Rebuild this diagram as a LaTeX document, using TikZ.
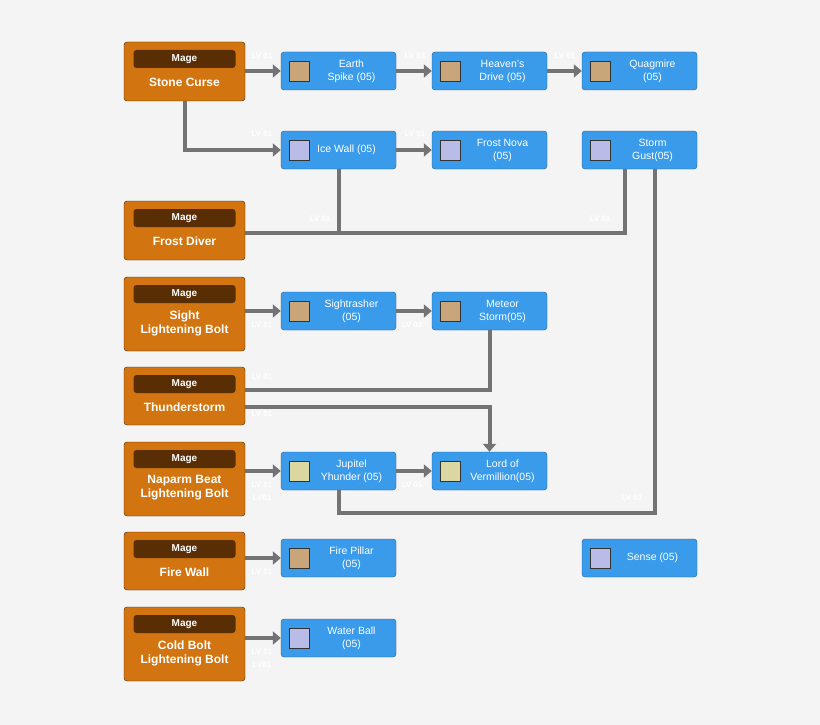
\documentclass[tikz,border=0pt]{standalone}
\usepackage{fontspec}
\setmainfont{Liberation Sans}
\usepackage{tikz}
\usetikzlibrary{arrows.meta}
\definecolor{bgpage}{HTML}{F4F4F4}
\definecolor{mageorange}{HTML}{D2740F}
\definecolor{magedark}{HTML}{5A2E05}
\definecolor{skillblue}{HTML}{3A9BEA}
\definecolor{scrolltan}{HTML}{C9A57A}
\definecolor{scrolllav}{HTML}{B8BCE6}
\definecolor{scrollpale}{HTML}{DCD7A0}
\tikzset{
  mage/.style={draw=magedark!70!black, fill=mageorange, rounded corners=3pt, minimum width=121pt, inner sep=0pt},
  magebar/.style={fill=magedark, rounded corners=3pt, minimum width=102pt, minimum height=18pt, inner sep=0pt,
    text=white, font=\bfseries\fontsize{10}{12}\selectfont},
  magename/.style={text=white, align=center, font=\bfseries\fontsize{12}{14}\selectfont},
  skill/.style={draw=skillblue!60!black, fill=skillblue, rounded corners=3pt, minimum width=115pt, minimum height=38pt, inner sep=0pt},
  skillname/.style={text=white, align=center, font=\fontsize{10.5}{13}\selectfont},
  icon/.style={draw=black!80, fill=#1, minimum width=20pt, minimum height=20pt, inner sep=0pt},
  conn/.style={draw=black!55, line width=4pt},
  arr/.style={conn, -{Triangle[length=8pt,width=13pt]}},
  lv/.style={text=white, font=\bfseries\fontsize{8}{9}\selectfont, inner sep=0pt}
}
\begin{document}
\begin{tikzpicture}[x=1pt,y=1pt,yscale=-1]
\fill[bgpage] (0,0) rectangle (820,725);
\useasboundingbox (0,0) rectangle (820,725);

% Mage boxes
\node[mage, minimum height=59pt] (sc) at (184.5,71.5) {};
\node[mage, minimum height=59pt] (fd) at (184.5,230.5) {};
\node[mage, minimum height=74pt] (sl) at (184.5,314) {};
\node[mage, minimum height=58pt] (ts) at (184.5,396) {};
\node[mage, minimum height=74pt] (nb) at (184.5,479) {};
\node[mage, minimum height=58pt] (fw) at (184.5,561) {};
\node[mage, minimum height=74pt] (cb) at (184.5,644) {};
\foreach \m in {sc,fd,sl,ts,nb,fw,cb}
  \node[magebar, below=8pt] (\m bar) at (\m.north) {Mage};
\node[magename, below=6pt] at (scbar.south) {Stone Curse};
\node[magename, below=6pt] at (fdbar.south) {Frost Diver};
\node[magename, below=4pt] at (slbar.south) {Sight\\Lightening Bolt};
\node[magename, below=6pt] at (tsbar.south) {Thunderstorm};
\node[magename, below=4pt] at (nbbar.south) {Naparm Beat\\Lightening Bolt};
\node[magename, below=6pt] at (fwbar.south) {Fire Wall};
\node[magename, below=4pt] at (cbbar.south) {Cold Bolt\\Lightening Bolt};

% Skill boxes
\node[skill] (es) at (338.5,71) {};
\node[skill] (hd) at (489.5,71) {};
\node[skill] (qm) at (639.5,71) {};
\node[skill] (iw) at (338.5,150) {};
\node[skill] (fn) at (489.5,150) {};
\node[skill] (sg) at (639.5,150) {};
\node[skill] (st) at (338.5,311) {};
\node[skill] (ms) at (489.5,311) {};
\node[skill] (jy) at (338.5,471) {};
\node[skill] (lv) at (489.5,471) {};
\node[skill] (fp) at (338.5,558) {};
\node[skill] (se) at (639.5,558) {};
\node[skill] (wb) at (338.5,638) {};
\node[skillname] at ([xshift=13pt]es.center) {Earth\\Spike (05)};
\node[skillname] at ([xshift=13pt]hd.center) {Heaven's\\Drive (05)};
\node[skillname] at ([xshift=13pt]qm.center) {Quagmire\\(05)};
\node[skillname] at ([xshift=8pt]iw.center) {Ice Wall (05)};
\node[skillname] at ([xshift=13pt]fn.center) {Frost Nova\\(05)};
\node[skillname] at ([xshift=13pt]sg.center) {Storm\\Gust(05)};
\node[skillname] at ([xshift=13pt]st.center) {Sightrasher\\(05)};
\node[skillname] at ([xshift=13pt]ms.center) {Meteor\\Storm(05)};
\node[skillname] at ([xshift=13pt]jy.center) {Jupitel\\Yhunder (05)};
\node[skillname] at ([xshift=13pt]lv.center) {Lord of\\Vermillion(05)};
\node[skillname] at ([xshift=13pt]fp.center) {Fire Pillar\\(05)};
\node[skillname] at ([xshift=13pt]se.center) {Sense (05)};
\node[skillname] at ([xshift=13pt]wb.center) {Water Ball\\(05)};
\foreach \s/\c in {es/scrolltan,hd/scrolltan,qm/scrolltan,iw/scrolllav,fn/scrolllav,sg/scrolllav,
    st/scrolltan,ms/scrolltan,jy/scrollpale,lv/scrollpale,fp/scrolltan,se/scrolllav,wb/scrolllav}
  \node[icon=\c] at ([xshift=18pt]\s.west) {};

% Connectors
\draw[arr] (sc.east |- es) -- (es.west);
\draw[arr] (es) -- (hd);
\draw[arr] (hd) -- (qm);
\draw[arr] (sc.south) |- (iw.west);
\draw[arr] (iw) -- (fn);
\draw[conn] (fd.east |- 0,233) -| ([xshift=-14.5pt]sg.south);
\draw[conn] (iw.south) -- (iw.south |- 0,233);
\draw[arr] (sl.east |- st) -- (st.west);
\draw[arr] (st) -- (ms);
\draw[conn] (ts.east |- 0,390) -| (ms.south);
\draw[arr] (ts.east |- 0,407) -| (lv.north);
\draw[arr] (nb.east |- jy) -- (jy.west);
\draw[arr] (jy) -- (lv);
\draw[conn] (jy.south) |- (655,513) -- ([xshift=15.5pt]sg.south);
\draw[arr] (fw.east |- fp) -- (fp.west);
\draw[arr] (cb.east |- wb) -- (wb.west);

% Level labels
\node[lv] at (262,56) {LV 01};
\node[lv] at (415,56) {LV 03};
\node[lv] at (565,56) {LV 01};
\node[lv] at (262,134) {LV 01};
\node[lv] at (415,134) {LV 01};
\node[lv] at (320,219) {LV 01};
\node[lv] at (600,219) {LV 01};
\node[lv] at (262,325) {LV 01};
\node[lv] at (412,325) {LV 02};
\node[lv] at (262,377) {LV 01};
\node[lv] at (262,414) {LV 01};
\node[lv] at (262,485) {LV 01};
\node[lv] at (262,498) {LV01};
\node[lv] at (412,485) {LV 05};
\node[lv] at (632,498) {LV 03};
\node[lv] at (262,572) {LV 01};
\node[lv] at (262,652) {LV 01};
\node[lv] at (262,665) {LV01};
\end{tikzpicture}
\end{document}
